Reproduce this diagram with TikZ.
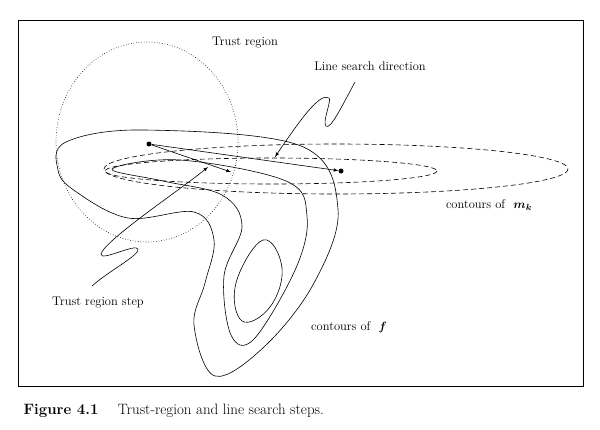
\documentclass[tikz,border=0pt]{standalone}
\usepackage{amsmath}
\usepackage{amssymb}
\usepackage{tikz}
\usetikzlibrary{arrows}
\tikzstyle{lbl} = [font=\fontsize{12.5}{14}\selectfont, inner sep=1pt]
\tikzstyle{contour} = [line width=0.6pt, black]
\tikzstyle{mk} = [line width=0.6pt, dash pattern=on 5pt off 3pt]
\tikzstyle{arrow} = [line width=0.6pt, ->, >=latex]
\tikzstyle{pt} = [circle, fill=black, inner sep=0pt, minimum size=5pt]
\begin{document}
\begin{tikzpicture}[x=1pt, y=-1pt]
    \useasboundingbox (0,0) rectangle (600,429);
    \draw[line width=0.6pt] (18,20) rectangle (583,386);

    % trust region and model contours
    \draw[dotted, line width=0.6pt] (147,142) ellipse (91 and 100);
    \draw[mk] (336,169) ellipse (232 and 25);
    \draw[mk] (271,171) ellipse (166 and 13);

    % contours of f
    \draw[contour] plot[smooth cycle, tension=0.6] coordinates {(58,170) (66,142) (145,130) (301,146) (338,209)
      (314,283) (265,346) (215,376) (194,325) (205,283) (214,240) (194,212) (128,218) (75,191)};
    \draw[contour] plot[smooth cycle, tension=0.6] coordinates {(112,169) (180,160) (286,181) (307,216) (296,268)
      (254,339) (231,335) (224,276) (242,226) (222,195) (163,181)};
    \draw[contour] plot[smooth cycle, tension=0.7] coordinates {(263,240) (282,268) (270,307) (242,321) (236,283)};

    % iterates
    \node(xk)[pt] at (149,144){};
    \node(xls)[pt] at (341,171){};
    \coordinate(xtr) at (231,172);
    \draw[arrow] (xk) -- (xtr);
    \draw[arrow] (xk) -- (xls);

    % labels
    \node(TR)[lbl] at (245,43){Trust region};
    \node(LS)[lbl] at (370,66){Line search direction};
    \node(MK)[lbl] at (489,205){contours of \ $\boldsymbol{m_k}$};
    \node(TRS)[lbl] at (98,303){Trust region step};
    \node(CF)[lbl] at (349,327){contours of \ $\boldsymbol{f}$};

    \coordinate(lsend) at (275,157);
    \draw[arrow] (355,82) .. controls (340,110) and (330,130) .. (326,126)
      .. controls (322,122) and (332,100) .. (329,98)
      .. controls (320,92) and (300,120) .. (lsend);
    \coordinate(trsend) at (208,167);
    \draw[arrow] (92,286) .. controls (110,270) and (140,255) .. (138,249)
      .. controls (136,243) and (100,262) .. (101,254)
      .. controls (105,240) and (180,190) .. (trsend);

    % caption
    \node[anchor=west, font=\fontsize{15}{18}\selectfont] at (20,411){\textbf{Figure 4.1}\quad\ Trust-region and line search steps.};
\end{tikzpicture}
\end{document}
